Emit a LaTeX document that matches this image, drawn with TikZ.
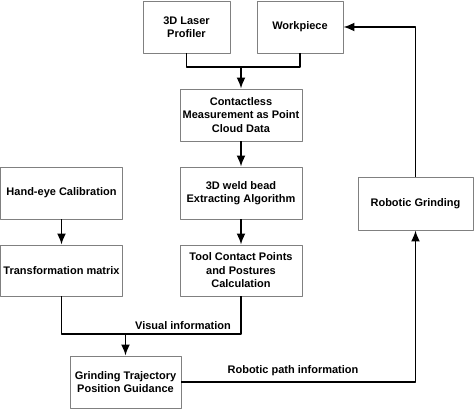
\documentclass[tikz,border=0pt]{standalone}
\usepackage{fontspec}
\setmainfont{Liberation Sans}
\usetikzlibrary{arrows.meta,calc,positioning}

\begin{document}
\begin{tikzpicture}[x=1pt,y=-1pt,line join=round,
	box/.style={draw=gray,line width=0.9pt,fill=white,align=center,inner sep=2pt,
		font=\bfseries\fontsize{11}{13.5}\selectfont},
	link/.style={line width=1.8pt},
	arr/.style={link,-{Latex[length=11pt,width=9pt]}},
	lbl/.style={font=\bfseries\fontsize{11}{13.5}\selectfont,inner sep=0pt}]
		\useasboundingbox (0,0) rectangle (474,409);
		\node[box,minimum width=87pt,minimum height=52pt] (laser) at (186.5,27) {3D Laser\\Profiler};
		\node[box,minimum width=86pt,minimum height=52pt] (work) at (300,27) {Workpiece};
		\node[box,minimum width=122pt,minimum height=52pt] (meas) at (241,115) {Contactless\\Measurement as Point\\Cloud Data};
		\node[box,minimum width=122pt,minimum height=52pt] (weld) at (241,193) {3D weld bead\\Extracting Algorithm};
		\node[box,minimum width=122pt,minimum height=51pt] (tool) at (241,270.5) {Tool Contact Points\\and Postures\\Calculation};
		\node[box,minimum width=122pt,minimum height=52pt] (hand) at (61.5,193) {Hand-eye Calibration};
		\node[box,minimum width=122pt,minimum height=51pt] (trans) at (61.5,270.5) {Transformation matrix};
		\node[box,minimum width=111pt,minimum height=52pt] (grind) at (125.5,382) {Grinding Trajectory\\Position Guidance};
		\node[box,minimum width=115pt,minimum height=53pt] (robot) at (415.5,203.5) {Robotic Grinding};
		\coordinate (j1) at (241,67);
		\coordinate (j2) at (125.5,334);
		\draw[link] (laser.south) |- (j1) -| (work.south);
		\draw[arr] (j1) -- (meas.north);
		\draw[arr] (meas) -- (weld);
		\draw[arr] (weld) -- (tool);
		\draw[arr] (hand) -- (trans);
		\draw[link] (trans.south) |- (j2) -| (tool.south);
		\draw[arr] (j2) -- (grind.north);
		\draw[arr] (grind.east) -| (robot.south);
		\draw[arr] (robot.north) |- (work.east);
		\node[lbl] (vis) at (183,326) {Visual information};
		\node[lbl] (path) at (293,371) {Robotic path information};
\end{tikzpicture}
\end{document}
